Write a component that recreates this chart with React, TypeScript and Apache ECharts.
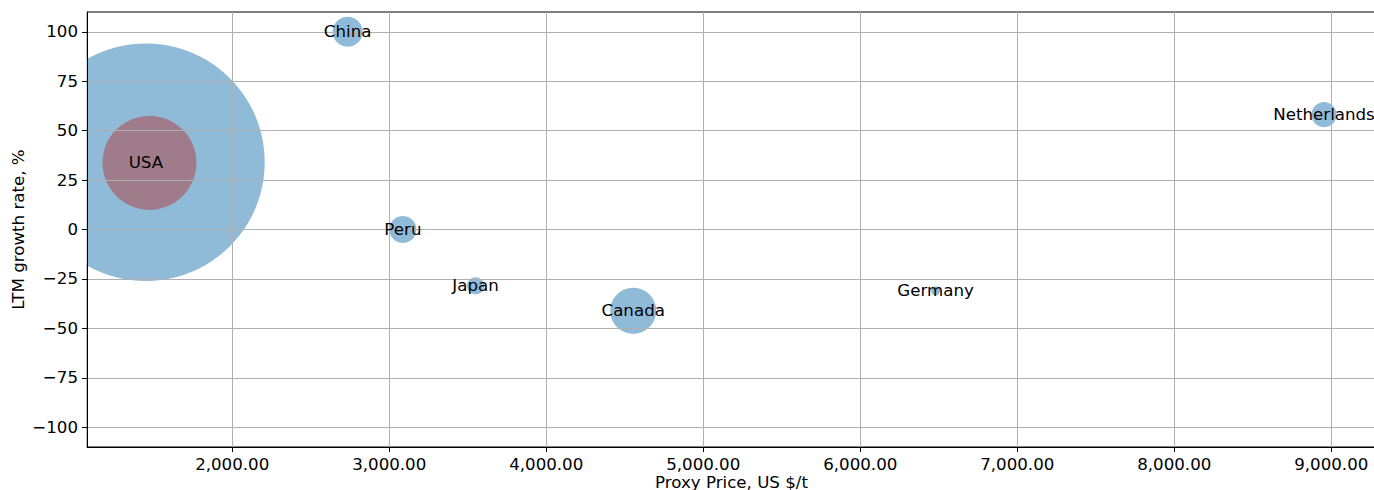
import React, { useEffect, useRef } from "react";
import * as echarts from "echarts";

const countries = ["USA", "China", "Peru", "Japan", "Canada", "Germany", "Netherlands"];
const prices = [1450, 2735, 3087, 3550, 4554, 6480, 8954];
const growth = [34.0, 100, 0, -28.5, -41.1, -31.0, 58.1];
const markerAreas = [23000, 370, 300, 120, 860, 33, 255];

const innerLabel = ["USA"];
const innerPrice = [1473];
const innerGrowth = [33.7];
const innerArea = [3600];

const xTicks = [2000, 3000, 4000, 5000, 6000, 7000, 8000, 9000];
const yTicks = [-100, -75, -50, -25, 0, 25, 50, 75, 100];

const toDiameter = (s: number) => 2 * Math.sqrt(s / Math.PI) * (100 / 72);
const fmt = (v: number) =>
  v.toLocaleString("en-US", { minimumFractionDigits: 2, maximumFractionDigits: 2 });

const FONT = "DejaVu Sans";
const FS = 16.67;

export default function App() {
  const ref = useRef<HTMLDivElement>(null);
  useEffect(() => {
    const chart = echarts.init(ref.current!, null, { renderer: "svg" });
    const mainData = countries.map((c, i) => ({
      name: c,
      value: [prices[i], growth[i]],
      symbolSize: toDiameter(markerAreas[i]),
    }));
    const innerData = innerLabel.map((c, i) => ({
      name: c,
      value: [innerPrice[i], innerGrowth[i]],
      symbolSize: toDiameter(innerArea[i]),
    }));
    chart.setOption({
      animation: false,
      textStyle: { fontFamily: FONT },
      grid: {
        left: 87,
        right: -2,
        top: 12,
        bottom: 43,
        outerBoundsMode: "none",
        containLabel: false,
        show: true,
        borderColor: "#000",
        borderWidth: 1,
        backgroundColor: "transparent",
      },
      graphic: [
        {
          type: "rect",
          z: 3,
          silent: true,
          shape: { x: 0, y: 0, width: 86.5, height: 490 },
          style: { fill: "#ffffff" },
        },
      ],
      xAxis: {
        type: "value",
        min: 1075,
        max: 9285,
        z: 5,
        axisLine: { show: true, onZero: false, lineStyle: { color: "#000", width: 1 } },
        axisTick: { show: true, length: 5, customValues: xTicks, lineStyle: { color: "#000" } },
        axisLabel: {
          color: "#000",
          fontSize: FS,
          fontFamily: FONT,
          lineHeight: 17,
          margin: 9,
          customValues: xTicks,
          formatter: (v: number) => fmt(v),
        },
        splitLine: { show: true, lineStyle: { color: "#b0b0b0", width: 1 } },
        name: "Proxy Price, US $/t",
        nameLocation: "middle",
        nameGap: 27,
        nameMoveOverlap: false,
        nameTextStyle: { color: "#000", fontSize: FS, fontFamily: FONT, lineHeight: 17 },
      },
      yAxis: {
        type: "value",
        min: -110,
        max: 110,
        z: 5,
        axisLine: { show: true, onZero: false, lineStyle: { color: "#000", width: 1 } },
        axisTick: { show: true, length: 5, customValues: yTicks, lineStyle: { color: "#000" } },
        axisLabel: {
          color: "#000",
          fontSize: FS,
          fontFamily: FONT,
          margin: 9,
          customValues: yTicks,
          formatter: (v: number) => String(v).replace("-", "\u2212"),
        },
        splitLine: { show: true, lineStyle: { color: "#b0b0b0", width: 1 } },
        name: "LTM growth rate, %",
        nameLocation: "middle",
        nameGap: 60,
        nameMoveOverlap: false,
        nameTextStyle: { color: "#000", fontSize: FS, fontFamily: FONT },
      },
      series: [
        {
          type: "scatter",
          z: 1,
          data: mainData,
          itemStyle: { color: "#8fbbd9", opacity: 1 },
          label: { show: false },
        },
        {
          type: "scatter",
          z: 2,
          data: innerData,
          itemStyle: { color: "#a07b8a", opacity: 1 },
          label: { show: false },
        },
        {
          type: "scatter",
          z: 10,
          data: countries.map((c, i) => ({ name: c, value: [prices[i], growth[i]] })),
          symbolSize: 0,
          itemStyle: { color: "transparent" },
          label: {
            show: true,
            position: "inside",
            formatter: (p: any) => p.name,
            color: "#000",
            opacity: 1,
            fontSize: FS,
            fontFamily: FONT,
          },
        },
      ],
    });
    return () => chart.dispose();
  }, []);
  return <div ref={ref} style={{ width: 1374, height: 490, position: "absolute", left: 0, top: 0 }} />;
}
